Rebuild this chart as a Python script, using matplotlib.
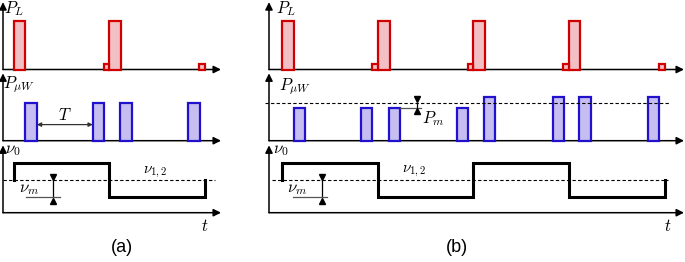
import matplotlib
matplotlib.use("Agg")
import matplotlib.pyplot as plt
from matplotlib.patches import Rectangle

plt.rcParams['mathtext.fontset'] = 'cm'

# ---------------- data (time in arbitrary units, period = 10) ----------------
# panel (a)
a_laser_start = [1.15, 11.15]
a_laser_small = [10.55, 20.5]
a_mw_start = [2.35, 9.4, 12.3, 19.4]
a_mw_height = [0.78, 0.78, 0.78, 0.78]
a_freq_t = [1.15, 1.15, 11.15, 11.15, 21.1, 21.1]
a_freq_v = [0.665, 1.01, 1.01, 0.32, 0.32, 0.665]

# panel (b)
b_laser_start = [1.4, 11.45, 21.4, 31.4]
b_laser_small = [10.8, 20.8, 30.8, 40.85]
b_mw_start = [2.6, 9.63, 12.53, 19.65, 22.5, 29.7, 32.5, 39.65]
b_mw_height = [0.68, 0.68, 0.68, 0.68, 0.89, 0.89, 0.89, 0.89]
b_freq_t = [1.4, 1.4, 11.45, 11.45, 21.4, 21.4, 31.45, 31.45, 41.45, 41.45]
b_freq_v = [0.665, 1.01, 1.01, 0.32, 0.32, 1.01, 1.01, 0.32, 0.32, 0.665]

pulse_w = 1.2
small_w = 0.6
laser_h = 1.0
small_h = 0.11
nu0 = 0.665
nu_low = 0.32
p_ref = 0.78
p_low = 0.68

# ---------------- figure ----------------
W, H = 685, 262
fig = plt.figure(figsize=(W / 100, H / 100), dpi=100)
SX = 9.55   # px per time unit
SY = 48.8   # px per amplitude unit

RED_E, RED_F = '#d00000', '#f2c0c4'
BLU_E, BLU_F = '#2211cc', '#c6bef0'


def make_ax(x0, y0, left, right, top, bottom):
    ax = fig.add_axes([left / W, 1 - bottom / H, (right - left) / W, (bottom - top) / H])
    ax.set_xlim((left - x0) / SX, (right - x0) / SX)
    ax.set_ylim((y0 - bottom) / SY, (y0 - top) / SY)
    ax.axis('off')
    return ax


def axes_arrows(ax, xend, yend):
    ap = dict(arrowstyle='-|>', color='black', lw=1.1, mutation_scale=11,
              shrinkA=0, shrinkB=0)
    ax.annotate('', xy=(xend, 0), xytext=(0, 0), arrowprops=ap)
    ax.annotate('', xy=(0, yend), xytext=(0, 0), arrowprops=ap)


def pulses(ax, starts, widths, heights, ec, fc):
    for s, w, h in zip(starts, widths, heights):
        ax.add_patch(Rectangle((s, 0), w, h, facecolor=fc, edgecolor=ec, lw=1.6, zorder=3))


def dim_arrow(ax, x, ytop, ybot, xl0, xl1, yl):
    ax.plot([x, x], [ytop, ybot], color='black', lw=0.9, zorder=4)
    dy = 3.5 / SY
    ax.plot([x], [ytop + dy], marker='v', color='black', ms=5, zorder=5)
    ax.plot([x], [ybot - dy], marker='^', color='black', ms=5, zorder=5)
    ax.plot([xl0, xl1], [yl, yl], color='#555555', lw=0.9, zorder=4)


FS = 12
rows = [(0, 72, 69.5), (72, 143, 140.7), (143, 235, 212.7)]

# ---------------- panel (a) ----------------
xa0 = 3
axa = [make_ax(xa0, y0, 0, 245, t, b) for (t, b, y0) in rows]
xend_a = (221 - xa0) / SX
for ax in axa:
    axes_arrows(ax, xend_a, 1.38)

pulses(axa[0], a_laser_start, [pulse_w] * 2, [laser_h] * 2, RED_E, RED_F)
pulses(axa[0], a_laser_small, [small_w] * 2, [small_h] * 2, RED_E, RED_F)
axa[0].text(0.15, 1.24, r'$P_L$', fontsize=FS, ha='left', va='center')

pulses(axa[1], a_mw_start, [pulse_w] * 4, a_mw_height, BLU_E, BLU_F)
axa[1].text(0.0, 1.15, r'$P_{\mu W}$', fontsize=FS, ha='left', va='center')
axa[1].annotate('', xy=(a_mw_start[1], 0.33), xytext=(a_mw_start[0] + pulse_w, 0.33),
                arrowprops=dict(arrowstyle='<|-|>', color='#333333', lw=0.9,
                                mutation_scale=6, shrinkA=0, shrinkB=0))
axa[1].text(6.5, 0.53, r'$T$', fontsize=FS, ha='center', va='center')

axa[2].plot(a_freq_t, a_freq_v, color='black', lw=2.2, solid_joinstyle='miter', zorder=3)
axa[2].plot([0, 22.2], [nu0, nu0], color='black', lw=0.8, ls=(0, (3, 2)), zorder=2)
dim_arrow(axa[2], 5.25, nu0, nu_low, 2.4, 6.0, nu_low)
axa[2].text(1.7, 0.5, r'$\nu_m$', fontsize=FS, ha='left', va='center')
axa[2].text(0.25, 1.3, r'$\nu_0$', fontsize=FS, ha='left', va='center')
axa[2].text(14.7, 0.82, r'$\nu_{1,2}$', fontsize=FS - 1, ha='left', va='center')
axa[2].text(21.1, -0.28, r'$t$', fontsize=FS, ha='center', va='center')
fig.text(122 / W, 1 - 248 / H, '(a)', fontsize=13, ha='center', va='center',
         family='Liberation Sans')

# ---------------- panel (b) ----------------
xb0 = 269
axb = [make_ax(xb0, y0, 250, 685, t, b) for (t, b, y0) in rows]
xend_b = (684 - xb0) / SX
for ax in axb:
    axes_arrows(ax, xend_b, 1.38)

pulses(axb[0], b_laser_start, [pulse_w] * 4, [laser_h] * 4, RED_E, RED_F)
pulses(axb[0], b_laser_small, [small_w] * 4, [small_h] * 4, RED_E, RED_F)
axb[0].text(0.7, 1.24, r'$P_L$', fontsize=FS, ha='left', va='center')

pulses(axb[1], b_mw_start, [pulse_w] * 8, b_mw_height, BLU_E, BLU_F)
axb[1].plot([-0.4, 42.0], [p_ref, p_ref], color='black', lw=0.8, ls=(0, (3, 2)), zorder=4)
dim_arrow(axb[1], 15.5, p_ref, p_low, 13.7, 15.9, p_low)
axb[1].text(1.0, 1.1, r'$P_{\mu W}$', fontsize=FS, ha='left', va='center')
axb[1].text(16.0, 0.46, r'$P_m$', fontsize=FS, ha='left', va='center')

axb[2].plot(b_freq_t, b_freq_v, color='black', lw=2.2, solid_joinstyle='miter', zorder=3)
axb[2].plot([0.3, 41.8], [nu0, nu0], color='black', lw=0.8, ls=(0, (3, 2)), zorder=2)
dim_arrow(axb[2], 5.5, nu0, nu_low, 2.55, 6.1, nu_low)
axb[2].text(1.9, 0.5, r'$\nu_m$', fontsize=FS, ha='left', va='center')
axb[2].text(0.45, 1.3, r'$\nu_0$', fontsize=FS, ha='left', va='center')
axb[2].text(13.9, 0.84, r'$\nu_{1,2}$', fontsize=FS - 1, ha='left', va='center')
axb[2].text(41.8, -0.28, r'$t$', fontsize=FS, ha='center', va='center')
fig.text(457 / W, 1 - 248 / H, '(b)', fontsize=13, ha='center', va='center',
         family='Liberation Sans')

fig.savefig('out.png', dpi=100, facecolor='white')
